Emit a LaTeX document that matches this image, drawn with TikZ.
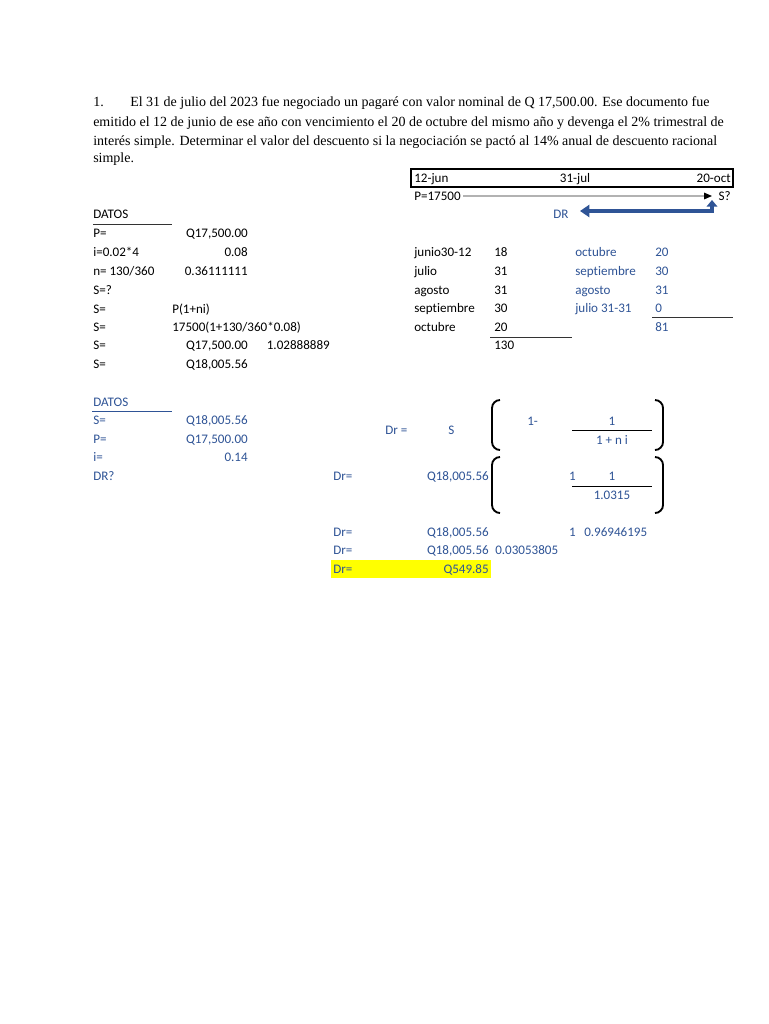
\documentclass[tikz,border=0pt]{standalone}
\usepackage{fontspec}
\setmainfont{Liberation Serif}
\newfontfamily\calfont{Carlito}[Ligatures=NoCommon]
\usetikzlibrary{arrows.meta}
\definecolor{xblue}{RGB}{47,84,150}
\definecolor{xyel}{RGB}{255,255,0}
\begin{document}
\begin{tikzpicture}[x=0.75pt,y=-0.75pt,
  para/.style={anchor=base west,yshift=-3pt,inner sep=0pt,font=\fontsize{10.5}{12}\selectfont},
  tw/.style={anchor=base west,yshift=-3pt,inner sep=0pt,font=\calfont\fontsize{9.8}{11}\selectfont},
  te/.style={anchor=base east,yshift=-3pt,inner sep=0pt,font=\calfont\fontsize{9.8}{11}\selectfont},
  tc/.style={anchor=base,yshift=-3pt,inner sep=0pt,font=\calfont\fontsize{9.8}{11}\selectfont},
  bl/.style={text=xblue},
  rule/.style={line width=0.6pt,black!80}]
\useasboundingbox[fill=white] (0,0) rectangle (768,1024);
% paragraph
\node[para] (p0) at (93,103) {1.};
\node[para] (p1) at (130,103) {El 31 de julio del 2023 fue negociado un pagaré con valor nominal de Q 17,500.00. Ese documento fue};
\node[para] (p2) at (93,122) {emitido el 12 de junio de ese año con vencimiento el 20 de octubre del mismo año y devenga el 2\% trimestral de};
\node[para] (p3) at (93,141) {interés simple. Determinar el valor del descuento si la negociación se pactó al 14\% anual de descuento racional};
\node[para] (p4) at (93,158) {simple.};
% timeline
\draw[line width=0.8pt] (411,169) rectangle (733,187);
\node[tw] (t1) at (414,178) {12-jun};
\node[tc] (t2) at (575,178) {31-jul};
\node[te] (t3) at (731,178) {20-oct};
\node[tw] (pp) at (414,196) {P=17500};
\node[te] (sq) at (731,196) {S?};
\draw[gray!60,line width=0.8pt,-{Triangle[black,length=6pt,width=5pt]}] (463,196) -- (712,196);
\node[tw,bl] (dr) at (553,214) {DR};
\draw[xblue,line width=3pt,-{Triangle[length=7pt,width=9pt]}] (712,211) -- (580,211);
\draw[xblue,line width=3pt,-{Triangle[length=5pt,width=8pt]}] (712,212.5) -- (712,200);
% left table
\node[tw] (d1) at (93,214) {DATOS};
\draw[rule] (93,224) -- (172,224);
\node[tw] at (93,233) {P=}; \node[te] at (248,233) {Q17,500.00};
\node[tw] at (93,252) {i=0.02*4}; \node[te] at (248,252) {0.08};
\node[tw] at (93,271) {n= 130/360}; \node[te] at (248,271) {0.36111111};
\node[tw] at (93,290) {S=?};
\node[tw] at (93,309) {S=}; \node[tw] at (172,309) {P(1+ni)};
\node[tw] at (93,327) {S=}; \node[tw] at (172,327) {17500(1+130/360*0.08)};
\node[tw] at (93,345) {S=}; \node[te] at (248,345) {Q17,500.00}; \node[te] at (330,345) {1.02888889};
\node[tw] at (93,364) {S=}; \node[te] at (248,364) {Q18,005.56};
% middle table
\node[tw] at (414,252) {junio30-12}; \node[tw] at (494,252) {18};
\node[tw] at (414,271) {julio}; \node[tw] at (494,271) {31};
\node[tw] at (414,290) {agosto}; \node[tw] at (494,290) {31};
\node[tw] at (414,308) {septiembre}; \node[tw] at (494,308) {30};
\node[tw] at (414,327) {octubre}; \node[tw] at (494,327) {20};
\draw[rule] (490,337) -- (572,337);
\node[tw] at (494,345) {130};
% right table
\begin{scope}[every node/.append style={bl}]
\node[tw] at (575,252) {octubre}; \node[tw] at (655,252) {20};
\node[tw] at (575,271) {septiembre}; \node[tw] at (655,271) {30};
\node[tw] at (575,290) {agosto}; \node[tw] at (655,290) {31};
\node[tw] at (575,308) {julio 31-31}; \node[tw] at (655,308) {0};
\node[tw] at (655,327) {81};
% blue data
\node[tw] at (93,402) {DATOS};
\node[tw] at (93,420) {S=}; \node[te] at (248,420) {Q18,005.56};
\node[tw] at (93,439) {P=}; \node[te] at (248,439) {Q17,500.00};
\node[tw] at (93,457) {i=}; \node[te] at (248,457) {0.14};
\node[tw] at (93,476) {DR?};
% formula
\node[tw] at (385,430) {Dr =}; \node[tw] at (448,430) {S};
\node[tw] at (527,421) {1-}; \node[tc] at (612,421) {1}; \node[tc] at (612,440) {1 + n i};
\node[tw] at (333,476) {Dr=}; \node[te] at (489,476) {Q18,005.56};
\node[te] at (576,476) {1}; \node[tc] at (612,476) {1}; \node[tc] at (612,495) {1.0315};
\node[tw] at (333,532) {Dr=}; \node[te] at (489,532) {Q18,005.56};
\node[te] at (576,532) {1}; \node[tw] at (584,532) {0.96946195};
\node[tw] at (333,550) {Dr=}; \node[te] at (489,550) {Q18,005.56}; \node[tw] at (495,550) {0.03053805};
\end{scope}
\draw[xblue,line width=0.6pt] (92,411) -- (172,411);
\draw[black,line width=0.6pt] (572,430) -- (652,430) (572,486) -- (652,486);
\draw[rule] (652,317) -- (733,317);
% brackets
\draw[line width=1.4pt] (500,400) to[out=180,in=90] (492,408) -- (492,442) to[out=-90,in=180] (500,450);
\draw[line width=1.4pt] (655,400) to[out=0,in=90] (663,408) -- (663,442) to[out=-90,in=0] (655,450);
\draw[line width=1.4pt] (500,457) to[out=180,in=90] (492,465) -- (492,505) to[out=-90,in=180] (500,513);
\draw[line width=1.4pt] (655,457) to[out=0,in=90] (663,465) -- (663,505) to[out=-90,in=0] (655,513);
% highlighted result
\fill[xyel] (331,560) rectangle (491,578);
\node[tw,bl] (r1) at (333,569) {Dr=}; \node[te,bl] (r2) at (489,569) {Q549.85};
\end{tikzpicture}
\end{document}
